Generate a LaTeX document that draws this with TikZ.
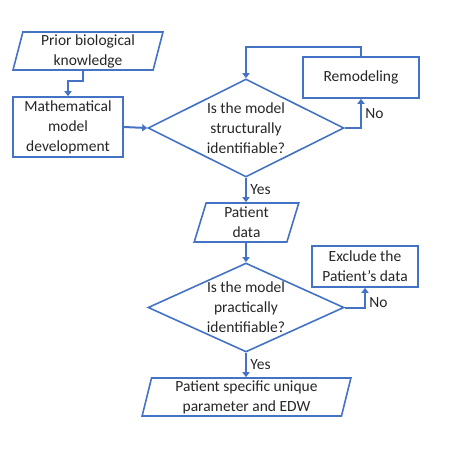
\documentclass[tikz,border=0pt]{standalone}
\usepackage{fontspec}
\setmainfont{Carlito}
\usetikzlibrary{shapes.geometric,arrows.meta}
\definecolor{flowblue}{HTML}{4472C4}
\begin{document}
\begin{tikzpicture}[x=1pt,y=-1pt,
    every node/.style={font=\fontsize{15.5}{20}\selectfont,text=black!85,align=center},
    box/.style={draw=flowblue,line width=1.6pt,rectangle,inner sep=0pt},
    io/.style={draw=flowblue,line width=1.6pt,trapezium,trapezium left angle=78,
        trapezium right angle=102,trapezium stretches=true,inner sep=0pt},
    decision/.style={draw=flowblue,line width=1.6pt,diamond,inner sep=0pt},
    link/.style={draw=flowblue,line width=2pt,-{Triangle[length=5pt,width=7pt]}}]
    \useasboundingbox (0,0) rectangle (474,474);
    % shapes
    \node [io,minimum width=150pt,minimum height=38pt] (prior) at (88,51) {Prior biological\\knowledge};
    \node [box,minimum width=110pt,minimum height=60pt] (math) at (68,127) {Mathematical\\model\\development};
    \node [decision,minimum width=196pt,minimum height=98pt] (q1) at (246,128) {};
    \node at (q1) {Is the model\\structurally\\identifiable?};
    \node [box,minimum width=116pt,minimum height=41pt] (remodel) at (361,77.5) {Remodeling};
    \node [io,minimum width=105pt,minimum height=39pt] (pdata) at (246.5,222.5) {Patient\\data};
    \node [decision,minimum width=196pt,minimum height=89pt] (q2) at (246,307.5) {};
    \node at (q2) {Is the model\\practically\\identifiable?};
    \node [box,minimum width=106pt,minimum height=41pt] (exclude) at (365,266.5) {Exclude the\\Patient’s data};
    \node [io,minimum width=209pt,minimum height=38pt] (result) at (246.5,397) {Patient specific unique\\parameter and EDW};
    % connectors
    \draw [link] (prior.bottom side) -- ++(0,10) -| (math.north);
    \draw [link] (math.east) -- (q1.west);
    \draw [link] (q1.east) -| node [pos=0.75,right] {No} (remodel.south);
    \draw [link] (remodel.north) -- ++(0,-9) -| (q1.north);
    \draw [link] (q1.south) -- node [right] {Yes} (q1.south |- pdata.north);
    \draw [link] (q2.north |- pdata.south) -- (q2.north);
    \draw [link] (q2.east) -| node [pos=0.62,right] {No} (exclude.south);
    \draw [link] (q2.south) -- node [right] {Yes} (q2.south |- result.north);
\end{tikzpicture}
\end{document}
